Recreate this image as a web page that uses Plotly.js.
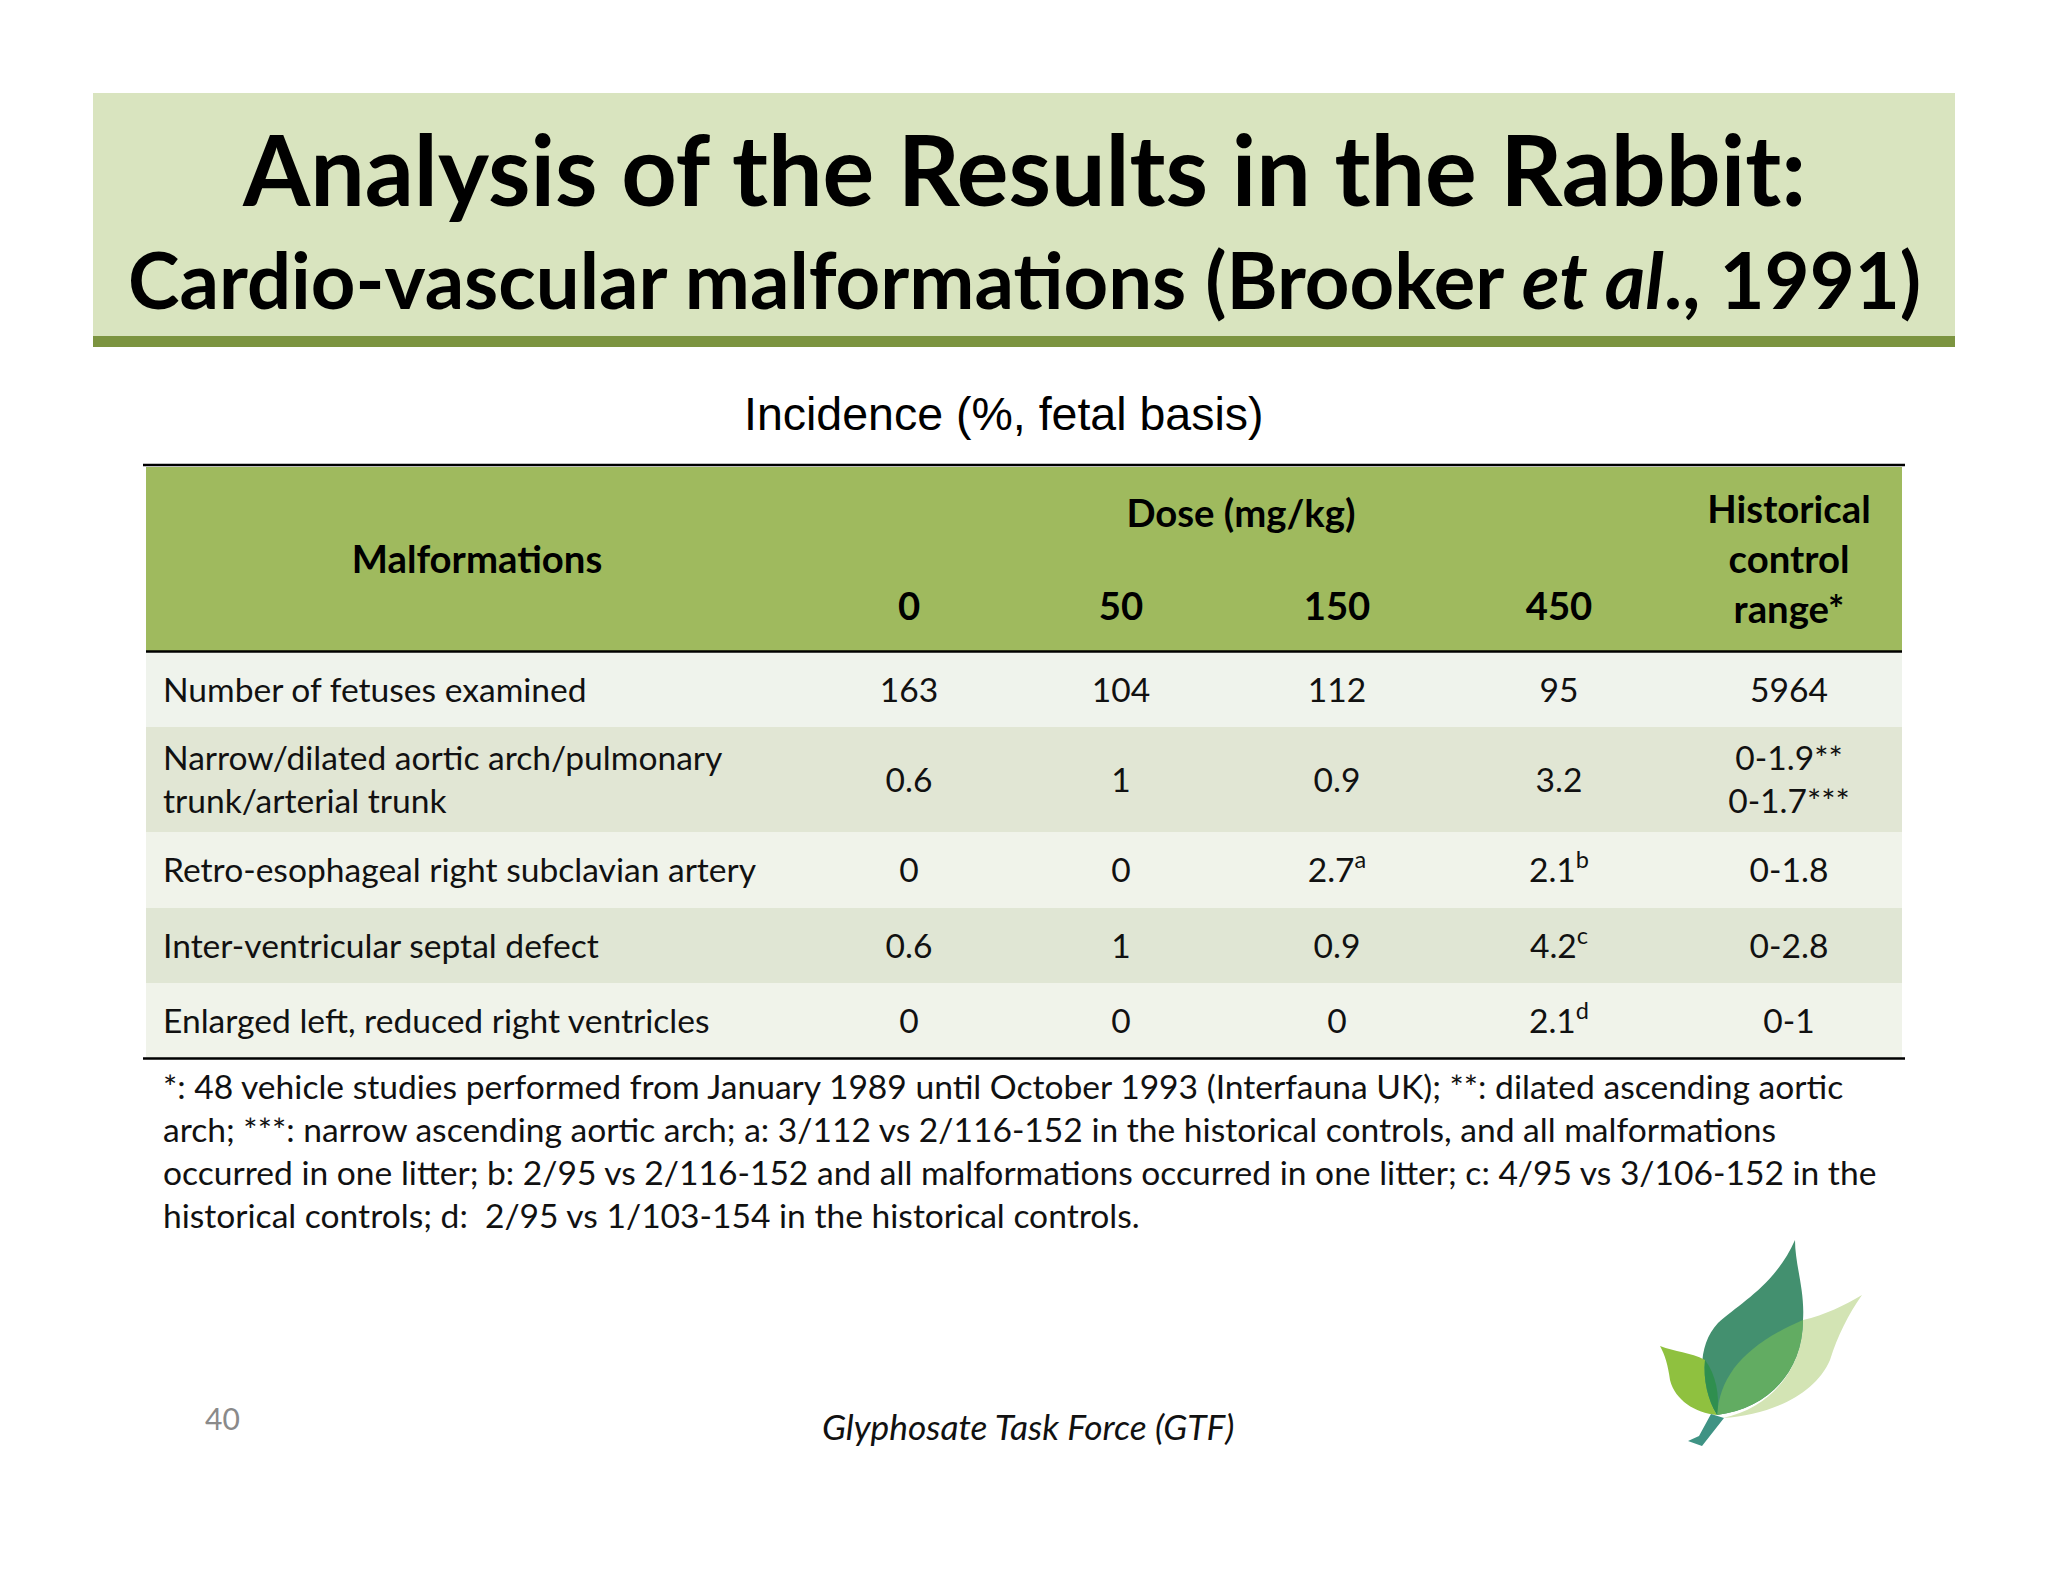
<!DOCTYPE html>
<html><head><meta charset="utf-8">
<script src="https://cdn.plot.ly/plotly-3.0.1.min.js"></script>
<style>html,body{margin:0;padding:0;background:#fff}#c{width:2048px;height:1582px}</style>
</head><body><div id="c"></div>
<script>
// ---------- data ----------
const titleMain = "Analysis of the Results in the Rabbit:";
const titleSub = "Cardio-vascular malformations (Brooker <i>et al</i>., 1991)";
const subtitle = "Incidence (%, fetal basis)";
const headMalformations = "Malformations";
const headDose = "Dose (mg/kg)";
const doses = ["0", "50", "150", "450"];
const headHistorical = ["Historical", "control", "range*"];
const rowLabels = [
  ["Number of fetuses examined"],
  ["Narrow/dilated aortic arch/pulmonary", "trunk/arterial trunk"],
  ["Retro-esophageal right subclavian artery"],
  ["Inter-ventricular septal defect"],
  ["Enlarged left, reduced right ventricles"]
];
const dose0   = ["163", "0.6", "0", "0.6", "0"];
const dose50  = ["104", "1", "0", "1", "0"];
const dose150 = ["112", "0.9", "2.7<sup>a</sup>", "0.9", "0"];
const dose450 = ["95", "3.2", "2.1<sup>b</sup>", "4.2<sup>c</sup>", "2.1<sup>d</sup>"];
const historical = [["5964"], ["0-1.9**", "0-1.7***"], ["0-1.8"], ["0-2.8"], ["0-1"]];
const footnotes = [
  "*: 48 vehicle studies performed from January 1989 until October 1993 (Interfauna UK); **: dilated ascending aortic",
  "arch; ***: narrow ascending aortic arch; a: 3/112 vs 2/116-152 in the historical controls, and all malformations",
  "occurred in one litter; b: 2/95 vs 2/116-152 and all malformations occurred in one litter; c: 4/95 vs 3/106-152 in the",
  "historical controls; d:  2/95 vs 1/103-154 in the historical controls."
];
const pageNumber = "40";
const footer = "Glyphosate Task Force (GTF)";

// ---------- layout constants ----------
const W = 2048, H = 1582;
const rowEdges = [651.5, 727, 832, 908, 983, 1058];
const colCentres = [909, 1121, 1337, 1559, 1789];
const tableL = 146, tableR = 1902, labelX = 163;
const bodyFont = {family: "Lato, sans-serif", size: 33.6, color: "#111"};
const headFont = {family: "Lato, sans-serif", size: 38.3, color: "#000"};
const lineGap = 43;
const textDrop = 4;
const bandColours = ["#EFF3EC", "#E1E6D4", "#F0F3EA", "#E0E6D4", "#F0F3EA"];

// ---------- marks ----------
const mids = rowLabels.map((_, i) => (rowEdges[i] + rowEdges[i + 1]) / 2);
const rowBands = {
  type: "bar", orientation: "h", hoverinfo: "skip",
  y: mids.concat([559]),
  width: rowEdges.slice(1).map((e, i) => e - rowEdges[i]).concat([185]),
  x: mids.concat([559]).map(() => tableR - tableL), base: tableL,
  marker: {color: bandColours.concat(["#9FBA5E"]), line: {width: 0}}
};
const lab = {x: [], y: [], text: []};
rowLabels.forEach((lines, i) => lines.forEach((t, k) => {
  lab.x.push(labelX); lab.y.push(mids[i] + textDrop + (k - (lines.length - 1) / 2) * lineGap); lab.text.push(t);
}));
footnotes.forEach((t, k) => { lab.x.push(labelX); lab.y.push(1087 + textDrop + k * lineGap); lab.text.push(t); });
const labels = {type: "scatter", mode: "text", hoverinfo: "skip", x: lab.x, y: lab.y, text: lab.text,
  textposition: "middle right", textfont: bodyFont};
const val = {x: [], y: [], text: []};
[dose0, dose50, dose150, dose450].forEach((col, c) => col.forEach((t, i) => {
  val.x.push(colCentres[c]); val.y.push(mids[i] + textDrop); val.text.push(t);
}));
historical.forEach((lines, i) => lines.forEach((t, k) => {
  val.x.push(colCentres[4]); val.y.push(mids[i] + textDrop + (k - (lines.length - 1) / 2) * lineGap); val.text.push(t);
}));
const values = {type: "scatter", mode: "text", hoverinfo: "skip", x: val.x, y: val.y, text: val.text,
  textposition: "middle center", textfont: bodyFont};
const head = {type: "scatter", mode: "text", hoverinfo: "skip",
  x: [477, 1241].concat(colCentres.slice(0, 4), headHistorical.map(() => colCentres[4])),
  y: [563, 517].concat(doses.map(() => 610), headHistorical.map((_, k) => 513 + k * 50)),
  text: ["<b>" + headMalformations + "</b>", "<b>" + headDose + "</b>"].concat(doses.map(d => "<b>" + d + "</b>"), headHistorical.map(d => "<b>" + d + "</b>")),
  textposition: "middle center", textfont: headFont};

const ann = (x, y, text, font) => ({x, y, xref: "x", yref: "y", text, font, showarrow: false, xanchor: "center", yanchor: "middle"});
const rect = (x0, y0, x1, y1, c) => ({type: "rect", layer: "below", x0, y0, x1, y1, xref: "x", yref: "y", fillcolor: c, line: {width: 0}});
const rule = (x0, x1, y, w) => ({type: "line", layer: "above", x0, x1, y0: y, y1: y, xref: "x", yref: "y", line: {color: "#000", width: w}});
const leaf = (path, c) => ({type: "path", layer: "above", xref: "x", yref: "y", path, fillcolor: c, line: {width: 0}});

const layout = {
  width: W, height: H, margin: {l: 0, r: 0, t: 0, b: 0}, showlegend: false,
  paper_bgcolor: "#fff", plot_bgcolor: "#fff", bargap: 0,
  xaxis: {range: [0, W], visible: false, fixedrange: true},
  yaxis: {range: [H, 0], visible: false, fixedrange: true},
  shapes: [
    rect(93, 93, 1955, 336, "#D9E4BF"),
    rect(93, 336, 1955, 347, "#7C9440"),
    rule(143, 1905, 465, 2.5), rule(146, 1902, 651.5, 2.5), rule(143, 1905, 1058.5, 2.5),
    leaf("M1723 1418 C1770 1415 1815 1395 1830 1360 C1838 1335 1848 1315 1862 1295 C1845 1305 1825 1315 1803 1320 C1803 1370 1770 1408 1723 1418 Z", "#D3E4B4"),
    leaf("M1717 1415 C1697 1385 1697 1345 1718 1323 C1740 1303 1775 1285 1795 1240 C1795 1265 1805 1290 1803 1320 C1803 1370 1770 1408 1717 1415 Z", "#43906F"),
    leaf("M1717 1415 C1720 1375 1745 1345 1803 1320 C1803 1370 1770 1408 1717 1415 Z", "#62AC62"),
    leaf("M1660 1346 C1675 1352 1690 1352 1705 1360 C1703 1380 1708 1400 1717 1415 C1695 1413 1675 1400 1670 1380 C1668 1365 1665 1355 1660 1346 Z", "#8FC13F"),
    leaf("M1705 1360 C1703 1380 1708 1400 1717 1415 C1720 1395 1716 1375 1705 1360 Z", "#2F8F4F"),
    leaf("M1711 1414 L1724 1418 L1702 1446 L1688 1441 L1699 1436 Z", "#3F9384")
  ],
  annotations: [
    ann(1024, 168, "<b>" + titleMain + "</b>", {family: "Lato, sans-serif", size: 96.8, color: "#000"}),
    ann(1024, 279, "<b>" + titleSub + "</b>", {family: "Lato, sans-serif", size: 77.8, color: "#000"}),
    ann(1004, 414, subtitle, {family: "Liberation Sans, Arial, sans-serif", size: 46.5, color: "#000"}),
    ann(222, 1418, pageNumber, {family: "Lato, sans-serif", size: 30, color: "#8a8a8a"}),
    ann(1028, 1426, "<i>" + footer + "</i>", {family: "Lato, sans-serif", size: 35.3, color: "#111"})
  ]
};
Plotly.newPlot("c", [rowBands, labels, values, head], layout, {staticPlot: true, displayModeBar: false});
</script></body></html>
